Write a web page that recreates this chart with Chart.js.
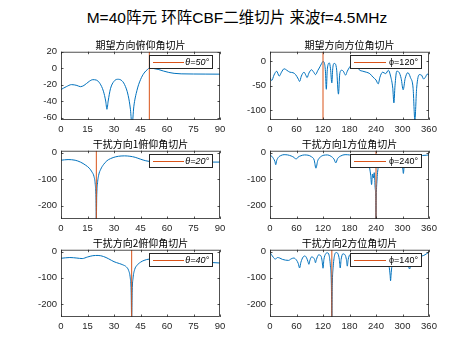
<!DOCTYPE html>
<html><head><meta charset="utf-8">
<script src="https://cdn.jsdelivr.net/npm/chart.js@4"></script>
<style>
body{margin:0;width:474px;height:355px;background:#fff;position:relative;overflow:hidden;font-family:"Liberation Sans","Noto Sans CJK SC",sans-serif;}
canvas{position:absolute;}
.main{position:absolute;left:0;width:474px;top:8px;height:20px;line-height:20px;text-align:center;font-size:15.5px;color:#000;font-family:"Liberation Sans","Noto Sans CJK SC",sans-serif;}
.ttl{position:absolute;text-align:center;font-size:10px;height:13px;line-height:13px;color:#000;font-family:"Noto Sans CJK SC",sans-serif;white-space:nowrap;}
.leg{position:absolute;background:#fff;border:0.8px solid #262626;box-sizing:border-box;height:14px;}
.leg .ln{position:absolute;left:3px;top:6px;height:1px;background:#D95319;}
.leg .tx{position:absolute;right:3px;top:0;line-height:13px;font-size:9px;color:#000;font-family:"Liberation Sans","DejaVu Sans",sans-serif;white-space:nowrap;}
</style></head>
<body>
<div class="main">M=40阵元 环阵CBF二维切片 来波f=4.5MHz</div>
<script>
// ---- data ----
const mainTitle = "M=40阵元 环阵CBF二维切片 来波f=4.5MHz";
const titles = ["期望方向俯仰角切片","期望方向方位角切片","干扰方向1俯仰角切片","干扰方向1方位角切片","干扰方向2俯仰角切片","干扰方向2方位角切片"];
const legendLabels = ["θ=50°","ϕ=120°","θ=20°","ϕ=240°","θ=40°","ϕ=140°"];
const steerAngles = [50,120,20,240,40,140];
const elevTicks = [0,15,30,45,60,75,90];
const aziTicks = [0,60,120,180,240,300,360];
const yTicksA = [20,0,-20,-40,-60];
const yTicksB = [0,-50,-100];
const yTicksC = [0,-100,-200];

// desired direction, elevation cut
const p1X = [0,3,6,9,11,13,16,18,20,22,24,25.3,26,26.7,28,30,32,34,36,38,39.3,40.2,41.2,43,45,47,49,50,52,55,58,61,64,68,75,82,90];
const p1Y = [-26,-22.5,-20,-21,-22.5,-21,-16,-14,-14.5,-18.5,-28,-40,-50,-40,-25,-16,-13.5,-14.5,-20,-33,-50,-70,-47,-27,-14,-6,-1.5,0,-0.3,-1.5,-3.5,-5.2,-6.3,-6.9,-7.1,-7.2,-7.3];
// desired direction, azimuth cut
const p2X = [0,4,9,15,21,26,32,38,45,52,58,64,67,71,77,81,84,88,94,99,103,108,113,117,120,123,125.5,127.5,129.5,132,134.5,137,140,142,145,148,151,155,158,162,166,171,175,180,186,191,196,202,210,218,226,233,240,245,249,255,262,268,273,278,280.5,283,287,292,297,301.5,306,312,318,324,328,332,338,343,348,352,356,360];
const p2Y = [-34,-39,-28,-20,-30,-22,-15,-18,-22,-23,-27,-36,-41,-30,-22,-28,-33,-24,-17,-22,-27,-19,-11,-4,0,-3,-20,-57,-20,-5,-3,-15,-44,-15,-4,-5,-18,-67,-25,-18,-20,-28,-20,-12,-6,-3,-8,-17,-20,-22,-25,-32,-38,-46,-32,-22,-25,-18,-30,-55,-85,-50,-20,-22,-35,-58,-35,-23,-33,-55,-120,-55,-27,-28,-36,-32,-26,-28];
// interference 1, elevation cut
const p3X = [0,4,8,11,14,16,17.5,18.7,19.4,19.8,20,20.2,20.6,21.3,22.5,24,26,28,31,34,36,39,42,45,48,52,58,65,72,80,90];
const p3Y = [-28,-25.5,-28,-35,-47,-58,-72,-90,-120,-170,-260,-170,-120,-85,-62,-45,-30,-22,-15,-12,-11.5,-13,-17,-24,-30,-34,-35,-36,-36,-35,-35];
// interference 1, azimuth cut
const p4X = [0,4,8,11,13,15,19,25,32,40,48,55,59,63,70,78,86,94,100,104,108,114,122,130,138,145,149,153,160,170,180,190,200,210,218,224,228,230,232,234,236,238,239.5,240,240.5,242,245,250,258,268,280,290,296,300,302,304,310,320,332,345,355,360];
const p4Y = [-8,-13,-22,-32,-45,-30,-17,-10,-7,-8,-12,-18,-24,-17,-11,-8,-9,-15,-27,-58,-30,-16,-9,-8,-13,-24,-38,-22,-12,-7,-8,-13,-20,-24,-30,-45,-85,-120,-80,-95,-75,-130,-180,-260,-180,-110,-55,-35,-25,-18,-14,-18,-30,-50,-78,-45,-25,-17,-12,-10,-9,-8];
// interference 2, elevation cut
const p5X = [0,5,9,12,15,18,21,24,27,30,33,35,37,38.3,39.2,39.7,40,40.3,40.8,41.7,43,45,47,50,55,62,70,78,85,90];
const p5Y = [-25,-22,-24,-26,-20,-15,-14,-18,-27,-38,-45,-50,-58,-72,-100,-150,-260,-150,-100,-68,-52,-40,-33,-28,-27,-30,-34,-38,-41,-43];
// interference 2, azimuth cut
const p6X = [0,3,7,12,17,22,28,35,42,48,54,60,64,67,70,75,79,83,86,88,90,94,98,101,103,105,110,115,118,120,122,126,130,134,137,139,140,141,143,146,150,154,157,159,161,165,170,173,175,177,182,187,190,200,215,230,245,255,265,270,272,273,274,276,285,295,305,312,316,320,330,340,348,354,360];
const p6Y = [-3,-10,-20,-28,-22,-24,-29,-32,-33,-27,-24,-32,-45,-62,-40,-20,-16,-24,-38,-48,-35,-20,-22,-30,-42,-30,-12,-15,-35,-63,-30,-8,-4,-15,-60,-130,-260,-130,-60,-15,-3,-8,-30,-62,-30,-8,-12,-30,-55,-30,-10,-14,-25,-22,-28,-25,-30,-22,-30,-60,-90,-111,-90,-55,-30,-25,-30,-45,-66,-40,-25,-18,-14,-8,-1];

// ---- layout ----
const COLS = [[61,220],[270,429]];
const ROWS = [[50,120],[149,219],[248,317]];
const PADL = 40, PADT = 8, PADR = 14, PADB = 22;
const AX = '#262626';

const panels = [
  {X:p1X, Y:p1Y, xt:elevTicks, yt:yTicksA, ymin:-63, ymax:20, c:0, r:0, it:true},
  {X:p2X, Y:p2Y, xt:aziTicks, yt:yTicksB, ymin:-120, ymax:20, c:1, r:0, it:false},
  {X:p3X, Y:p3Y, xt:elevTicks, yt:yTicksC, ymin:-250, ymax:8, c:0, r:1, it:true},
  {X:p4X, Y:p4Y, xt:aziTicks, yt:yTicksC, ymin:-250, ymax:8, c:1, r:1, it:false},
  {X:p5X, Y:p5Y, xt:elevTicks, yt:yTicksC, ymin:-250, ymax:8, c:0, r:2, it:true},
  {X:p6X, Y:p6Y, xt:aziTicks, yt:yTicksC, ymin:-250, ymax:8, c:1, r:2, it:false}
];

const framePlugin = {
  id:'frame',
  afterDraw(chart){
    const {ctx, chartArea:a, scales} = chart;
    const xs = scales.x, ys = scales.y;
    ctx.save();
    ctx.strokeStyle = AX; ctx.lineWidth = 0.8;
    ctx.strokeRect(a.left+0.5, a.top+0.5, a.right-a.left-1, a.bottom-a.top-1);
    const tl = 2.5;
    ctx.beginPath();
    xs.ticks.forEach(t=>{
      const px = Math.round(xs.getPixelForValue(t.value))+0.5;
      ctx.moveTo(px, a.bottom); ctx.lineTo(px, a.bottom-tl);
      ctx.moveTo(px, a.top); ctx.lineTo(px, a.top+tl);
    });
    ys.ticks.forEach(t=>{
      const py = Math.round(ys.getPixelForValue(t.value))+0.5;
      ctx.moveTo(a.left, py); ctx.lineTo(a.left+tl, py);
      ctx.moveTo(a.right, py); ctx.lineTo(a.right-tl, py);
    });
    ctx.stroke();
    ctx.restore();
  }
};

panels.forEach((p, i)=>{
  const [L,R] = COLS[p.c], [T,B] = ROWS[p.r];
  const cv = document.createElement('canvas');
  const w = (R-L)+PADL+PADR, h = (B-T)+PADT+PADB;
  cv.width = w; cv.height = h;
  cv.style.left = (L-PADL)+'px'; cv.style.top = (T-PADT)+'px';
  cv.style.width = w+'px'; cv.style.height = h+'px';
  document.body.appendChild(cv);
  const steer = steerAngles[i];
  new Chart(cv.getContext('2d'), {
    type:'line',
    data:{datasets:[
      {data:[{x:steer,y:p.ymin},{x:steer,y:p.ymax}], borderColor:'#D95319', borderWidth:1, pointRadius:0},
      {data:p.X.map((v,k)=>({x:v,y:p.Y[k]})), borderColor:'#0072BD', borderWidth:1, pointRadius:0, cubicInterpolationMode:'monotone'}
    ]},
    options:{
      responsive:false, animation:false, devicePixelRatio:1,
      layout:{padding:{left:0,top:PADT,right:PADR,bottom:0}},
      plugins:{legend:{display:false}, title:{display:false}, tooltip:{enabled:false}},
      scales:{
        x:{type:'linear', min:0, max:p.xt[p.xt.length-1],
           grid:{display:false, drawTicks:false}, border:{display:false},
           afterBuildTicks:s=>{s.ticks = p.xt.map(v=>({value:v}));},
           afterFit:s=>{s.height = PADB;},
           ticks:{font:{family:'Liberation Sans', size:9.5}, color:AX, padding:4, maxRotation:0, autoSkip:false}},
        y:{type:'linear', min:p.ymin, max:p.ymax,
           grid:{display:false, drawTicks:false}, border:{display:false},
           afterBuildTicks:s=>{s.ticks = p.yt.map(v=>({value:v}));},
           afterFit:s=>{s.width = PADL;},
           ticks:{font:{family:'Liberation Sans', size:9.5}, color:AX, padding:4, autoSkip:false}}
      }
    },
    plugins:[framePlugin]
  });
  // subplot title
  const t = document.createElement('div');
  t.className = 'ttl'; t.textContent = titles[i];
  t.style.left = L+'px'; t.style.width = (R-L)+'px'; t.style.top = (T-12.5)+'px';
  document.body.appendChild(t);
  // legend
  const lg = document.createElement('div');
  lg.className = 'leg';
  const lw = p.c===0 ? 64 : 72;
  lg.style.left = (R-7-lw)+'px'; lg.style.width = lw+'px'; lg.style.top = (T+4.5)+'px';
  const ln = document.createElement('div'); ln.className='ln'; ln.style.width = p.c===0 ? '31px' : '32px';
  const tx = document.createElement('div'); tx.className='tx'; tx.textContent = legendLabels[i];
  if (p.it) tx.style.fontStyle = 'italic';
  lg.appendChild(ln); lg.appendChild(tx);
  document.body.appendChild(lg);
});
</script>
</body></html>
